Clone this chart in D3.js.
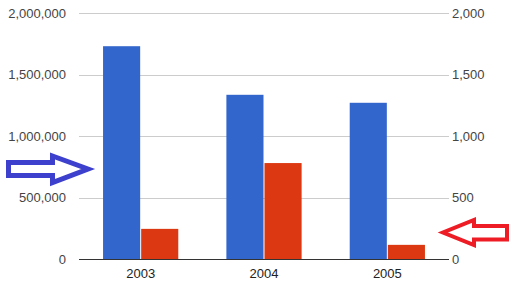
<!DOCTYPE html>
<html><head><meta charset="utf-8">
<script src="https://cdn.jsdelivr.net/npm/d3@7"></script>
<style>body{margin:0;background:#fff}svg{display:block}text{font-family:Arial,"Liberation Sans",sans-serif}</style>
</head><body>
<svg id="c" width="532" height="297"></svg>
<script>
const categories = ["2003","2004","2005"];
const leftValues = [1730000, 1335000, 1270000];
const rightValues = [245, 780, 115];
const leftTicks = [0, 500000, 1000000, 1500000, 2000000];
const rightTicks = [0, 500, 1000, 1500, 2000];

const svg = d3.select("#c");
const L = 79, R = 449, T = 13, B = 259;
const x = d3.scaleBand().domain(categories).range([L, R]).paddingInner(0.39).paddingOuter(0.195);
const yL = d3.scaleLinear().domain([0, 2000000]).range([B, T]);
const yR = d3.scaleLinear().domain([0, 2000]).range([B, T]);
const fmt = d3.format(",");

// gridlines
svg.append("g").selectAll("line").data(leftTicks.filter(d=>d>0)).join("line")
  .attr("x1", L).attr("x2", R).attr("y1", d=>Math.round(yL(d))+0.5).attr("y2", d=>Math.round(yL(d))+0.5)
  .attr("stroke", "#cccccc").attr("stroke-width", 1);

const bw = x.bandwidth()/2;
svg.append("g").selectAll("rect").data(categories).join("rect")
  .attr("x", d=>x(d)).attr("width", bw-0.5)
  .attr("y", (d,i)=>yL(leftValues[i])).attr("height", (d,i)=>B-yL(leftValues[i]))
  .attr("fill", "#3366cc");
svg.append("g").selectAll("rect").data(categories).join("rect")
  .attr("x", d=>x(d)+bw+0.5).attr("width", bw-0.5)
  .attr("y", (d,i)=>yR(rightValues[i])).attr("height", (d,i)=>B-yR(rightValues[i]))
  .attr("fill", "#dc3912");

// baseline
svg.append("line").attr("x1", L).attr("x2", R).attr("y1", B+0.5).attr("y2", B+0.5)
  .attr("stroke", "#333333").attr("stroke-width", 1);

// left axis labels
const gL = svg.append("g").attr("transform", `translate(${L},0)`)
  .call(d3.axisLeft(yL).tickValues(leftTicks).tickFormat(fmt).tickSize(0).tickPadding(13));
gL.select(".domain").remove();
gL.selectAll("text").attr("font-size", 13).attr("fill", "#444").attr("font-family", "Arial, 'Liberation Sans', sans-serif");

// right axis labels
const gR = svg.append("g").attr("transform", `translate(${R},0)`)
  .call(d3.axisRight(yR).tickValues(rightTicks).tickFormat(fmt).tickSize(0).tickPadding(3));
gR.select(".domain").remove();
gR.selectAll("text").attr("font-size", 13).attr("fill", "#444").attr("font-family", "Arial, 'Liberation Sans', sans-serif");

// x axis labels
const gX = svg.append("g").attr("transform", `translate(0,${B})`)
  .call(d3.axisBottom(x).tickSize(0).tickPadding(10));
gX.select(".domain").remove();
gX.selectAll("text").attr("font-size", 13).attr("fill", "#222").attr("font-family", "Arial, 'Liberation Sans', sans-serif");

// annotation arrows
svg.append("path")
  .attr("d", "M8.5,162.5 L52.5,162.5 L52.5,156 L88,169 L52.5,182.5 L52.5,175.5 L8.5,175.5 Z")
  .attr("fill", "none").attr("stroke", "#3d40cc").attr("stroke-width", 5).attr("stroke-linejoin", "miter");
svg.append("path")
  .attr("d", "M507,226 L474,226 L474,220 L443,232.5 L474,245 L474,239.5 L507,239.5 Z")
  .attr("fill", "none").attr("stroke", "#ee1c25").attr("stroke-width", 4).attr("stroke-linejoin", "miter");
</script>
</body></html>
